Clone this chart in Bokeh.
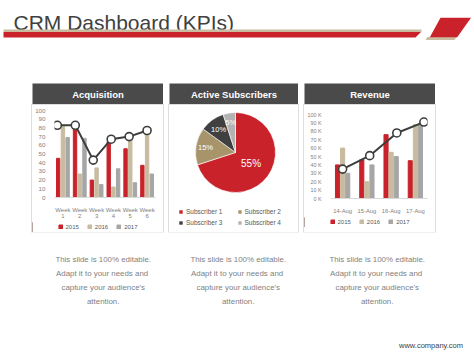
from bokeh.plotting import figure
from bokeh.models import Range1d, Legend, LegendItem, Spacer, FixedTicker
from bokeh.layouts import row, column
from bokeh.core.properties import value
from bokeh.embed import file_html
from bokeh.resources import INLINE
import math

# ---------------- data ----------------
title_text = "CRM Dashboard (KPIs)"
panel_titles = ["Acquisition", "Active Subscribers", "Revenue"]

weeks = ["Week\n1", "Week\n2", "Week\n3", "Week\n4", "Week\n5", "Week\n6"]
acq_2015 = [45, 79, 20, 64, 56, 37]
acq_2016 = [82, 27, 34, 12, 67, 75]
acq_2017 = [69, 68, 15, 33, 17, 27]
acq_line = [83, 83, 43, 67, 70, 77]
acq_ticks = [0, 10, 20, 30, 40, 50, 60, 70, 80, 90, 100]

subscribers = ["Subscriber 1", "Subscriber 2", "Subscriber 3", "Subscriber 4"]
sub_share = [70, 15, 10, 5]
sub_labels = ["55%", "15%", "10%", "5%"]

days = ["14-Aug", "15-Aug", "16-Aug", "17-Aug"]
rev_2015 = [40, 46, 76, 45]
rev_2016 = [60, 20, 55, 88]
rev_2017 = [30, 40, 50, 89]
rev_line = [35, 51, 78, 91]
rev_ticks = [0, 10, 20, 30, 40, 50, 60, 70, 80, 90, 100]
rev_tick_labels = ["0 K", "10 K", "20 K", "30 K", "40 K", "50 K", "60 K", "70 K", "80 K", "90 K", "100 K"]

years = ["2015", "2016", "2017"]
blurb = ["This slide is 100% editable.", "Adapt it to your  needs and",
         "capture your audience's", "attention."]
footer = "www.company.com"

# ---------------- style ----------------
FONT = "Liberation Sans"
RED = "#c9222b"
TAN = "#c8bb9f"
GRAY = "#a6a6a6"
PIE_COLORS = [RED, "#a8946a", "#404040", "#b3b3b3"]
HEAD = "#4a4a4a"
LINE = "#3d3d3d"
TXT = "#7f7f7f"
BORDER = {"box-shadow": "0 0 0 1px #dedede"}


def blank(w, h, xr, yr, bg="white"):
    p = figure(width=w, height=h, x_range=xr, y_range=yr, output_backend="svg",
               toolbar_location=None, x_axis_location=None, y_axis_location=None,
               min_border=0, frame_align=False)
    p.grid.visible = False
    p.outline_line_color = None
    p.background_fill_color = bg
    p.border_fill_color = bg
    return p


# ---------------- header (title + stripes) ----------------
hdr = blank(474, 83, Range1d(0, 474), Range1d(83, 0))
hdr.text(x=[13], y=[22], text=[title_text], text_font=value(FONT), text_font_size="21px",
         text_color="#404040", text_baseline="alphabetic")
hdr.patch([3, 421, 421, 3], [29, 29, 31.6, 31.6], color=TAN, line_width=0)
hdr.patch([3, 420.5, 415, 3], [31.6, 31.6, 37, 37], color=RED, line_width=0)
hdr.patch([427, 456, 454, 425], [36.5, 36.5, 39.5, 39.5], color=TAN, line_width=0)
hdr.patch([440, 470.5, 456.7, 429.3], [17.3, 17.3, 36.7, 36.7], color=RED, line_width=0)

head_style = dict(text_font=value(FONT), text_font_size="9.5px", text_font_style="bold",
                  text_color="white", text_align="center", text_baseline="middle")


def header(w, label):
    p = blank(w, 22, Range1d(0, 1), Range1d(0, 1), bg=HEAD)
    p.text(x=[0.5], y=[0.5], text=[label], **head_style)
    return p


def make_legend(items, **kw):
    leg = Legend(items=items, glyph_width=5, glyph_height=5, label_height=6,
                 label_width=10, label_text_font=FONT, label_text_font_size="6px",
                 label_text_color="#595959", label_standoff=3, padding=0, margin=0,
                 border_line_color=None, background_fill_alpha=0, **kw)
    return leg


def year_legend(w, h):
    # legend swatches: renderers whose single bar lies outside the visible range
    p = blank(w, h, Range1d(0, 1), Range1d(0, 1))
    rs = [p.vbar(x=[-10], top=[1], width=0.1, color=c) for c in (RED, TAN, GRAY)]
    leg = make_legend([LegendItem(label=y, renderers=[r]) for y, r in zip(years, rs)],
                      orientation="horizontal", location="center", spacing=8)
    p.add_layout(leg)
    return p


def bar_chart(cats, s1, s2, s3, line, w, h, borders, off, bw, line_x0, line_dx, ticks,
              overrides, yfs, xfs):
    n = len(cats)
    centers = [i + 0.5 for i in range(n)]
    p = figure(width=w, height=h, x_range=Range1d(0, n), y_range=Range1d(0, 100),
               output_backend="svg", toolbar_location=None, frame_align=False)
    p.min_border_left, p.min_border_right, p.min_border_top, p.min_border_bottom = borders
    p.grid.visible = False
    p.outline_line_color = None
    p.vbar(x=[c - off for c in centers], top=s1, width=bw, color=RED)
    p.vbar(x=centers, top=s2, width=bw, color=TAN)
    p.vbar(x=[c + off for c in centers], top=s3, width=bw, color=GRAY)
    lx = [line_x0 + line_dx * i for i in range(len(line))]
    p.line(lx, line, line_color=LINE, line_width=2)
    p.scatter(lx, line, size=8, fill_color="white", line_color=LINE, line_width=1.6)
    p.yaxis.ticker = FixedTicker(ticks=ticks)
    if overrides:
        p.yaxis.major_label_overrides = overrides
    p.yaxis.axis_line_color = None
    p.yaxis.major_tick_line_color = None
    p.yaxis.minor_tick_line_color = None
    p.yaxis.major_label_standoff = 3
    p.yaxis.major_label_text_font = FONT
    p.yaxis.major_label_text_font_size = yfs
    p.yaxis.major_label_text_color = TXT
    p.xaxis.ticker = FixedTicker(ticks=centers)
    p.xaxis.major_label_overrides = {c: lab for c, lab in zip(centers, cats)}
    p.xaxis.axis_line_color = "#d9d9d9"
    p.xaxis.major_tick_line_color = None
    p.xaxis.minor_tick_line_color = None
    p.xaxis.major_label_standoff = 3
    p.xaxis.major_label_text_font = FONT
    p.xaxis.major_label_text_font_size = xfs
    p.xaxis.major_label_text_color = TXT
    p.xaxis.major_label_text_line_height = 1.0
    return p


acq = bar_chart(weeks, acq_2015, acq_2016, acq_2017, acq_line, 131, 116, (21, 8, 5, 21),
                0.28, 0.2, 0.17, 1.066, acq_ticks, None, "6.2px", "6px")
rev = bar_chart(days, rev_2015, rev_2016, rev_2017, rev_line, 131, 111, (20, 8, 9, 15),
                0.21, 0.17, 0.5, 1.117, rev_ticks,
                {t: l for t, l in zip(rev_ticks, rev_tick_labels)}, "5.4px", "5.8px")

acq_body = column(acq, year_legend(131, 11), spacing=0, styles=BORDER)
rev_body = column(rev, year_legend(131, 11), Spacer(width=131, height=5), spacing=0,
                  styles=BORDER)

# ---------------- pie ----------------
pie = blank(129, 127, Range1d(-66, 63), Range1d(-80, 47))
pie.styles = BORDER
R = 40
total = float(sum(sub_share))
starts, ends, mids = [], [], []
acc = 0.0
for v in sub_share:
    a0 = math.pi / 2 - 2 * math.pi * acc / total
    acc += v
    a1 = math.pi / 2 - 2 * math.pi * acc / total
    starts.append(a0)
    ends.append(a1)
    mids.append((a0 + a1) / 2)
wedges = []
for i in range(len(sub_share)):
    wr = pie.wedge(x=0, y=0, radius=R, start_angle=starts[i], end_angle=ends[i],
                   direction="clock", fill_color=PIE_COLORS[i], line_color="white",
                   line_width=0.6)
    wedges.append(wr)
lab_r = [0.48, 0.76, 0.72, 0.76]
lab_fs = ["10px", "7.5px", "7.5px", "7.5px"]
for i, t in enumerate(sub_labels):
    pie.text(x=[R * lab_r[i] * math.cos(mids[i])], y=[R * lab_r[i] * math.sin(mids[i])],
             text=[t], text_font=value(FONT), text_font_size=lab_fs[i], text_color="white",
             text_align="center", text_baseline="middle")
legA = make_legend([LegendItem(label=subscribers[0], renderers=[wedges[0]]),
                    LegendItem(label=subscribers[2], renderers=[wedges[2]])],
                   orientation="vertical", location=(9, 6), spacing=4)
legB = make_legend([LegendItem(label=subscribers[1], renderers=[wedges[1]]),
                    LegendItem(label=subscribers[3], renderers=[wedges[3]])],
                   orientation="vertical", location=(67.5, 6), spacing=4)
for lg in (legA, legB):
    lg.label_text_font_size = "6.5px"
    pie.add_layout(lg)

panels = row(Spacer(width=32, height=149),
             column(header(131, panel_titles[0]), acq_body, spacing=0),
             Spacer(width=6, height=149),
             column(header(129, panel_titles[1]), pie, spacing=0),
             Spacer(width=6, height=149),
             column(header(131, panel_titles[2]), rev_body, spacing=0),
             Spacer(width=39, height=149), spacing=0)

# ---------------- footer texts ----------------
ftr = blank(474, 123, Range1d(0, 474), Range1d(355, 232))
for cx in (102.7, 237.7, 376.7):
    for k, ln in enumerate(blurb):
        ftr.text(x=[cx], y=[258.5 + 14.1 * k], text=[ln], text_font=value(FONT),
                 text_font_size="7.9px", text_color=TXT, text_align="center",
                 text_baseline="middle")
ftr.text(x=[430.5], y=[345], text=[footer], text_font=value(FONT), text_font_size="7.5px",
         text_color="#404040", text_align="center", text_baseline="middle")

page = column(hdr, panels, ftr, spacing=0)
open("out.html", "w").write(file_html(page, INLINE))
